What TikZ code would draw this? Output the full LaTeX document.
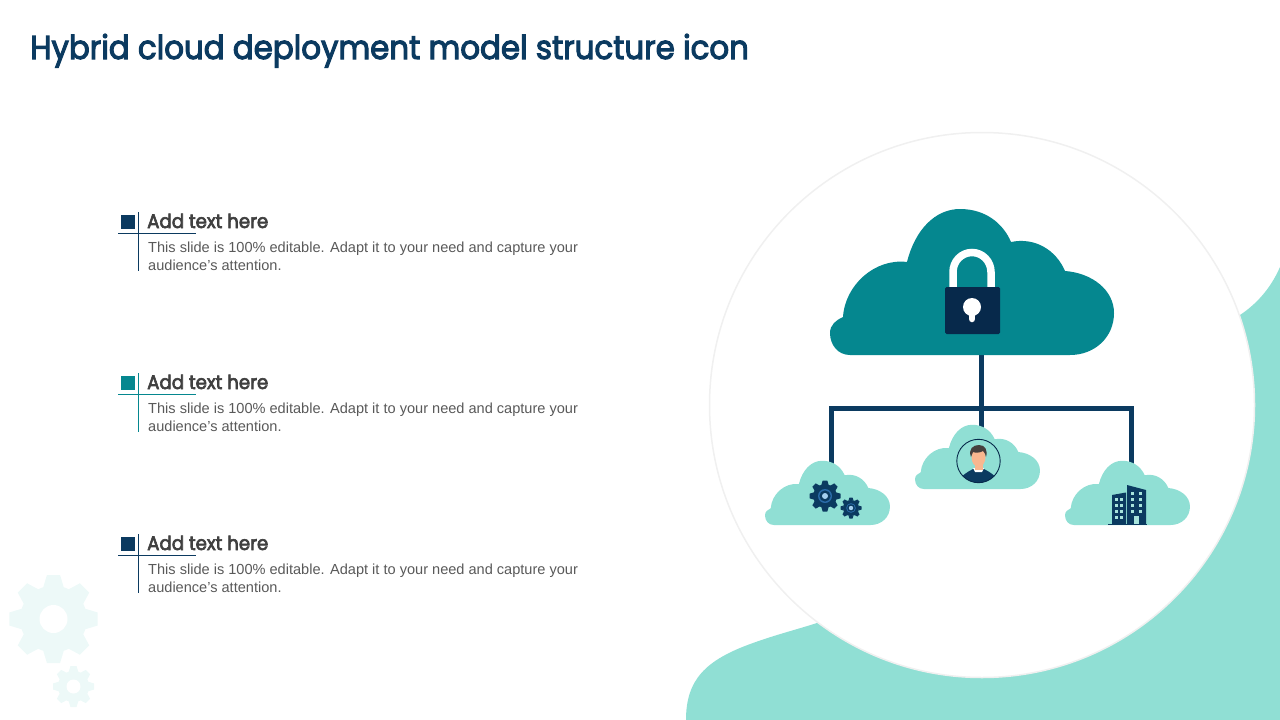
\documentclass[tikz,border=0pt]{standalone}
\usepackage{fontspec}
\setmainfont{Liberation Sans}
\newfontfamily\headfont[FakeStretch=.935, FakeBold=3.2]{Poppins}
\definecolor{navy}{HTML}{0B3A60}
\definecolor{deepnavy}{HTML}{07294B}
\definecolor{tealdark}{HTML}{05878F}
\definecolor{mint}{HTML}{90DFD4}
\definecolor{palegear}{HTML}{EDF9F8}
\definecolor{headgray}{HTML}{404040}
\definecolor{bodygray}{HTML}{595959}
\definecolor{gearring}{HTML}{2A6BA8}
\definecolor{gearcore}{HTML}{A4CFEF}
\definecolor{skin}{HTML}{F8B78F}
\definecolor{hair}{HTML}{45403E}
\definecolor{windowlight}{HTML}{A8E4DC}
\tikzset{
	cloudshape/.pic={
		\fill[pic actions](20, 0) .. controls (8, 0) and (0, -10) .. (0, -22)
			.. controls (0, -30) and (6, -35) .. (13, -38)
			.. controls (15, -70) and (45, -97) .. (77, -93)
			.. controls (85, -125) and (105, -146) .. (130, -146)
			.. controls (155, -146) and (173, -132) .. (181, -113)
			.. controls (205, -118) and (226, -105) .. (235, -84)
			.. controls (262, -82) and (284, -65) .. (284, -42)
			.. controls (284, -18) and (265, 0) .. (240, 0) -- cycle;
	},
	gearshape/.pic={
		\fill[pic actions](0, 0) circle (76);
		\foreach \a in {0, 45, ..., 315}{
			\fill[pic actions, rotate=\a](-24, -70) -- (-15, -100) -- (15, -100) -- (24, -70) -- cycle;
		}
	},
	headtext/.style={font=\headfont\fontsize{19.5}{22}\selectfont, text=headgray, anchor=base west, inner sep=0pt},
	bodytext/.style={font=\fontsize{14.57}{18}\selectfont, text=bodygray, anchor=north west, inner sep=0pt, align=left},
	linkline/.style={navy, line width=4.7pt}
}
\begin{document}
\begin{tikzpicture}[x=1pt, y=-1pt]
	\useasboundingbox(0, 0) rectangle (1280, 720);

	%%Background shapes
	\fill[mint](686, 720) .. controls (686, 680) and (705, 660) .. (753, 643)
		.. controls (775, 635) and (795, 630) .. (817, 623) -- (1000, 400) -- (1240, 315)
		.. controls (1255, 305) and (1270, 290) .. (1280, 267) -- (1280, 720) -- cycle;
	\draw[fill=white, draw=black!6, line width=1.5pt](982, 405) circle (272.5);
	\pic[scale=.44, fill=palegear] at (53.5, 619) {gearshape};
	\fill[white](53.5, 619) circle (14);
	\pic[scale=.205, fill=palegear] at (73.5, 686.5) {gearshape};
	\fill[white](73.5, 686.5) circle (7);

	\node[anchor=base west, inner sep=0pt, text=navy, font=\headfont\fontsize{33}{36}\selectfont] (title) at (30, 59){Hybrid cloud deployment model structure icon};

	%%Text blocks
	\foreach \n/\dy/\c in {1/0/navy, 2/161/tealdark, 3/322/navy}{
		\fill[\c](121, 215+\dy) rectangle (135, 229+\dy);
		\draw[\c, line width=.8pt](138.5, 212+\dy) to (138.5, 271+\dy);
		\draw[\c, line width=.8pt](118, 233+\dy) to (196, 233+\dy);
		\node[headtext] (head\n) at (147, 228+\dy){Add text here};
		\node[bodytext] (body\n) at (148, 242+\dy){This slide is 100\% editable. Adapt it to your need and capture your\\audience's attention.};
	}

	%%Connectors
	\coordinate (bigcloud) at (981.6, 350);
	\coordinate (junction) at (981.6, 408.3);
	\coordinate (midcloud) at (981.6, 432);
	\coordinate (leftcloud) at (831.6, 466);
	\coordinate (rightcloud) at (1131.6, 466);
	\draw[linkline](bigcloud) to (junction) to (midcloud);
	\draw[linkline](leftcloud) |- (junction) -| (rightcloud);

	%%Clouds
	\pic[fill=tealdark] at (830, 355) {cloudshape};
	\pic[scale=.44, fill=mint] at (765, 525) {cloudshape};
	\pic[scale=.44, fill=mint] at (915, 489) {cloudshape};
	\pic[scale=.44, fill=mint] at (1065, 525) {cloudshape};

	%%Lock
	\draw[white, line width=7.5pt](953, 290) to (953, 272) arc (180:360:19 and 19.5) to (991, 290);
	\fill[deepnavy, rounded corners=1.5pt](945, 287) rectangle (1000, 334);
	\fill[white](972, 307) circle (9);
	\draw[white, line width=6.5pt, line cap=round](972, 310) to (972, 319);

	%%Gears
	\pic[scale=.155, fill=navy] at (825, 496) {gearshape};
	\fill[gearring](825, 496) circle (7);
	\fill[navy](825, 496) circle (5.6);
	\fill[gearcore](825, 496) circle (3);
	\pic[scale=.105, fill=navy] at (851, 508) {gearshape};
	\fill[gearring](851, 508) circle (4.8);
	\fill[navy](851, 508) circle (3.8);
	\fill[gearcore](851, 508) circle (2.2);

	%%Person
	\begin{scope}
		\clip(978.5, 461) circle (21.7);
		\fill[navy](958, 486) .. controls (960, 475) and (966, 473) .. (973, 469) -- (984, 469)
			.. controls (991, 473) and (997, 475) .. (999, 486) -- cycle;
		\fill[white](973, 468) -- (984, 468) -- (982, 472) -- (975, 472) -- cycle;
		\fill[skin](974.5, 462) rectangle (982.5, 470);
		\fill[skin](978.5, 457) ellipse (7 and 10);
		\fill[hair](971, 457) .. controls (968, 449) and (973, 445) .. (979, 445)
			.. controls (985, 445) and (988, 450) .. (986, 457)
			.. controls (985, 453) and (984, 452) .. (983, 451)
			.. controls (980, 453) and (975, 453) .. (973, 452) -- cycle;
	\end{scope}
	\draw[deepnavy, line width=.9pt](978.5, 461) circle (21.7);

	%%Building
	\fill[navy](1112, 495) -- (1126, 492.5) -- (1126, 524) -- (1112, 524) -- cycle;
	\fill[navy](1127, 485) -- (1146, 490) -- (1146, 524) -- (1127, 524) -- cycle;
	\draw[navy, line width=1.2pt](1108, 524.5) to (1147, 524.5);
	\foreach \wx in {1114.5, 1120}{
		\foreach \wy in {497.5, 503.5, 509.5, 515.5}{
			\fill[windowlight](\wx, \wy) rectangle +(3.2, 3.2);
		}
	}
	\foreach \wx in {1130.5, 1139}{
		\foreach \wy in {492, 498, 504, 510}{
			\fill[windowlight](\wx, \wy) rectangle +(3, 3.4);
		}
	}
	\fill[windowlight](1134, 516) rectangle (1139, 524);
\end{tikzpicture}
\end{document}
